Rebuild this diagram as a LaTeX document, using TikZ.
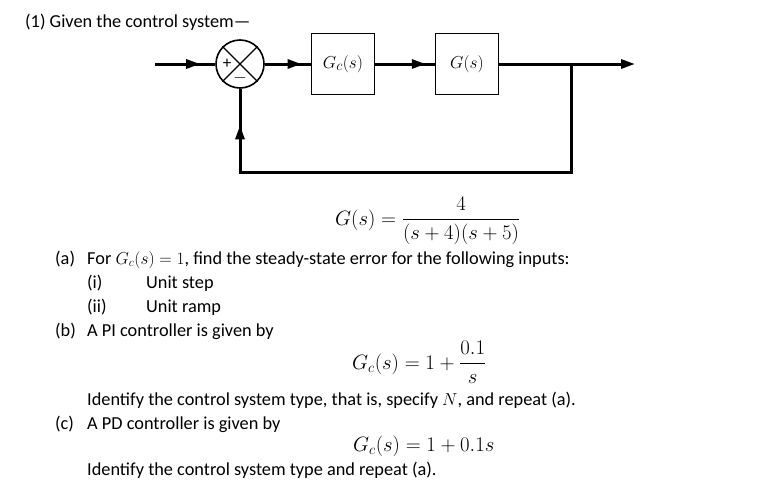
\documentclass[tikz,border=0pt]{standalone}
\usepackage{amsmath}
\usepackage{fontspec}
\setmainfont{Carlito}
\usetikzlibrary{arrows.meta,decorations.markings}
\begin{document}
\begin{tikzpicture}[x=1pt,y=-1pt,
  sig/.style={line width=3pt},
  mid/.style={postaction={decorate},decoration={markings,mark=at position #1 with {\arrow{Triangle[length=14pt,width=9pt]}}}},
  blk/.style={draw,line width=1.6pt,minimum width=63pt,minimum height=61pt,font=\fontsize{19}{19}\selectfont},
  txt/.style={anchor=base west,inner sep=0pt,font=\fontsize{18.3}{20}\selectfont},
  eq/.style={anchor=base west,inner sep=0pt,font=\fontsize{20}{22}\selectfont}]
\useasboundingbox (0,0) rectangle (767,490);
\node[txt] (title) at (25,27) {(1) Given the control system—};
% diagram
\coordinate (in) at (155,64);
\node[draw,circle,line width=1.6pt,minimum size=48pt,inner sep=0pt] (sum) at (240,64) {};
\draw[line width=1.2pt] (sum.north west) -- (sum.south east) (sum.north east) -- (sum.south west);
\node[font=\fontsize{17}{17}\selectfont] (plus) at (227,64) {+};
\node[font=\fontsize{17}{17}\selectfont] (minus) at (240,78) {$-$};
\node[blk] (gc) at (343,64) {$G_c(s)$};
\node[blk] (g) at (467,64) {$G(s)$};
\coordinate (br) at (571,64);
\coordinate (out) at (635,64);
\coordinate (bl) at (571,172);
\coordinate (bll) at (240,172);
\draw[sig,mid=0.75] (in) -- (sum.west);
\draw[sig,mid=0.8] (sum.east) -- (gc.west);
\draw[sig,mid=0.85] (gc.east) -- (g.west);
\draw[sig] (g.east) -- (br);
\draw[sig,-{Triangle[length=14pt,width=9pt]}] (br) -- (out);
\draw[sig,mid=0.93] (br) -- (bl) -- (bll) -- (sum.south);
% text
\node[eq] (geq) at (335,225) {$G(s)=\dfrac{4}{(s+4)(s+5)}$};
\node[txt] (a) at (55,264) {(a)};
\node[txt] (at) at (87,264) {For $G_c(s)=1$, find the steady-state error for the following inputs:};
\node[txt] (i) at (87,288) {(i)};
\node[txt] (it) at (146,288) {Unit step};
\node[txt] (ii) at (87,312) {(ii)};
\node[txt] (iit) at (146,312) {Unit ramp};
\node[txt] (b) at (55,336) {(b)};
\node[txt] (bt) at (87,336) {A PI controller is given by};
\node[eq] (gcb) at (352,369) {$G_c(s)=1+\dfrac{0.1}{s}$};
\node[txt] (bi) at (87,405) {Identify the control system type, that is, specify $N$, and repeat (a).};
\node[txt] (c) at (55,429) {(c)};
\node[txt] (ct) at (87,429) {A PD controller is given by};
\node[eq] (gcc) at (353,451) {$G_c(s)=1+0.1s$};
\node[txt] (ci) at (87,475) {Identify the control system type and repeat (a).};
\end{tikzpicture}
\end{document}
